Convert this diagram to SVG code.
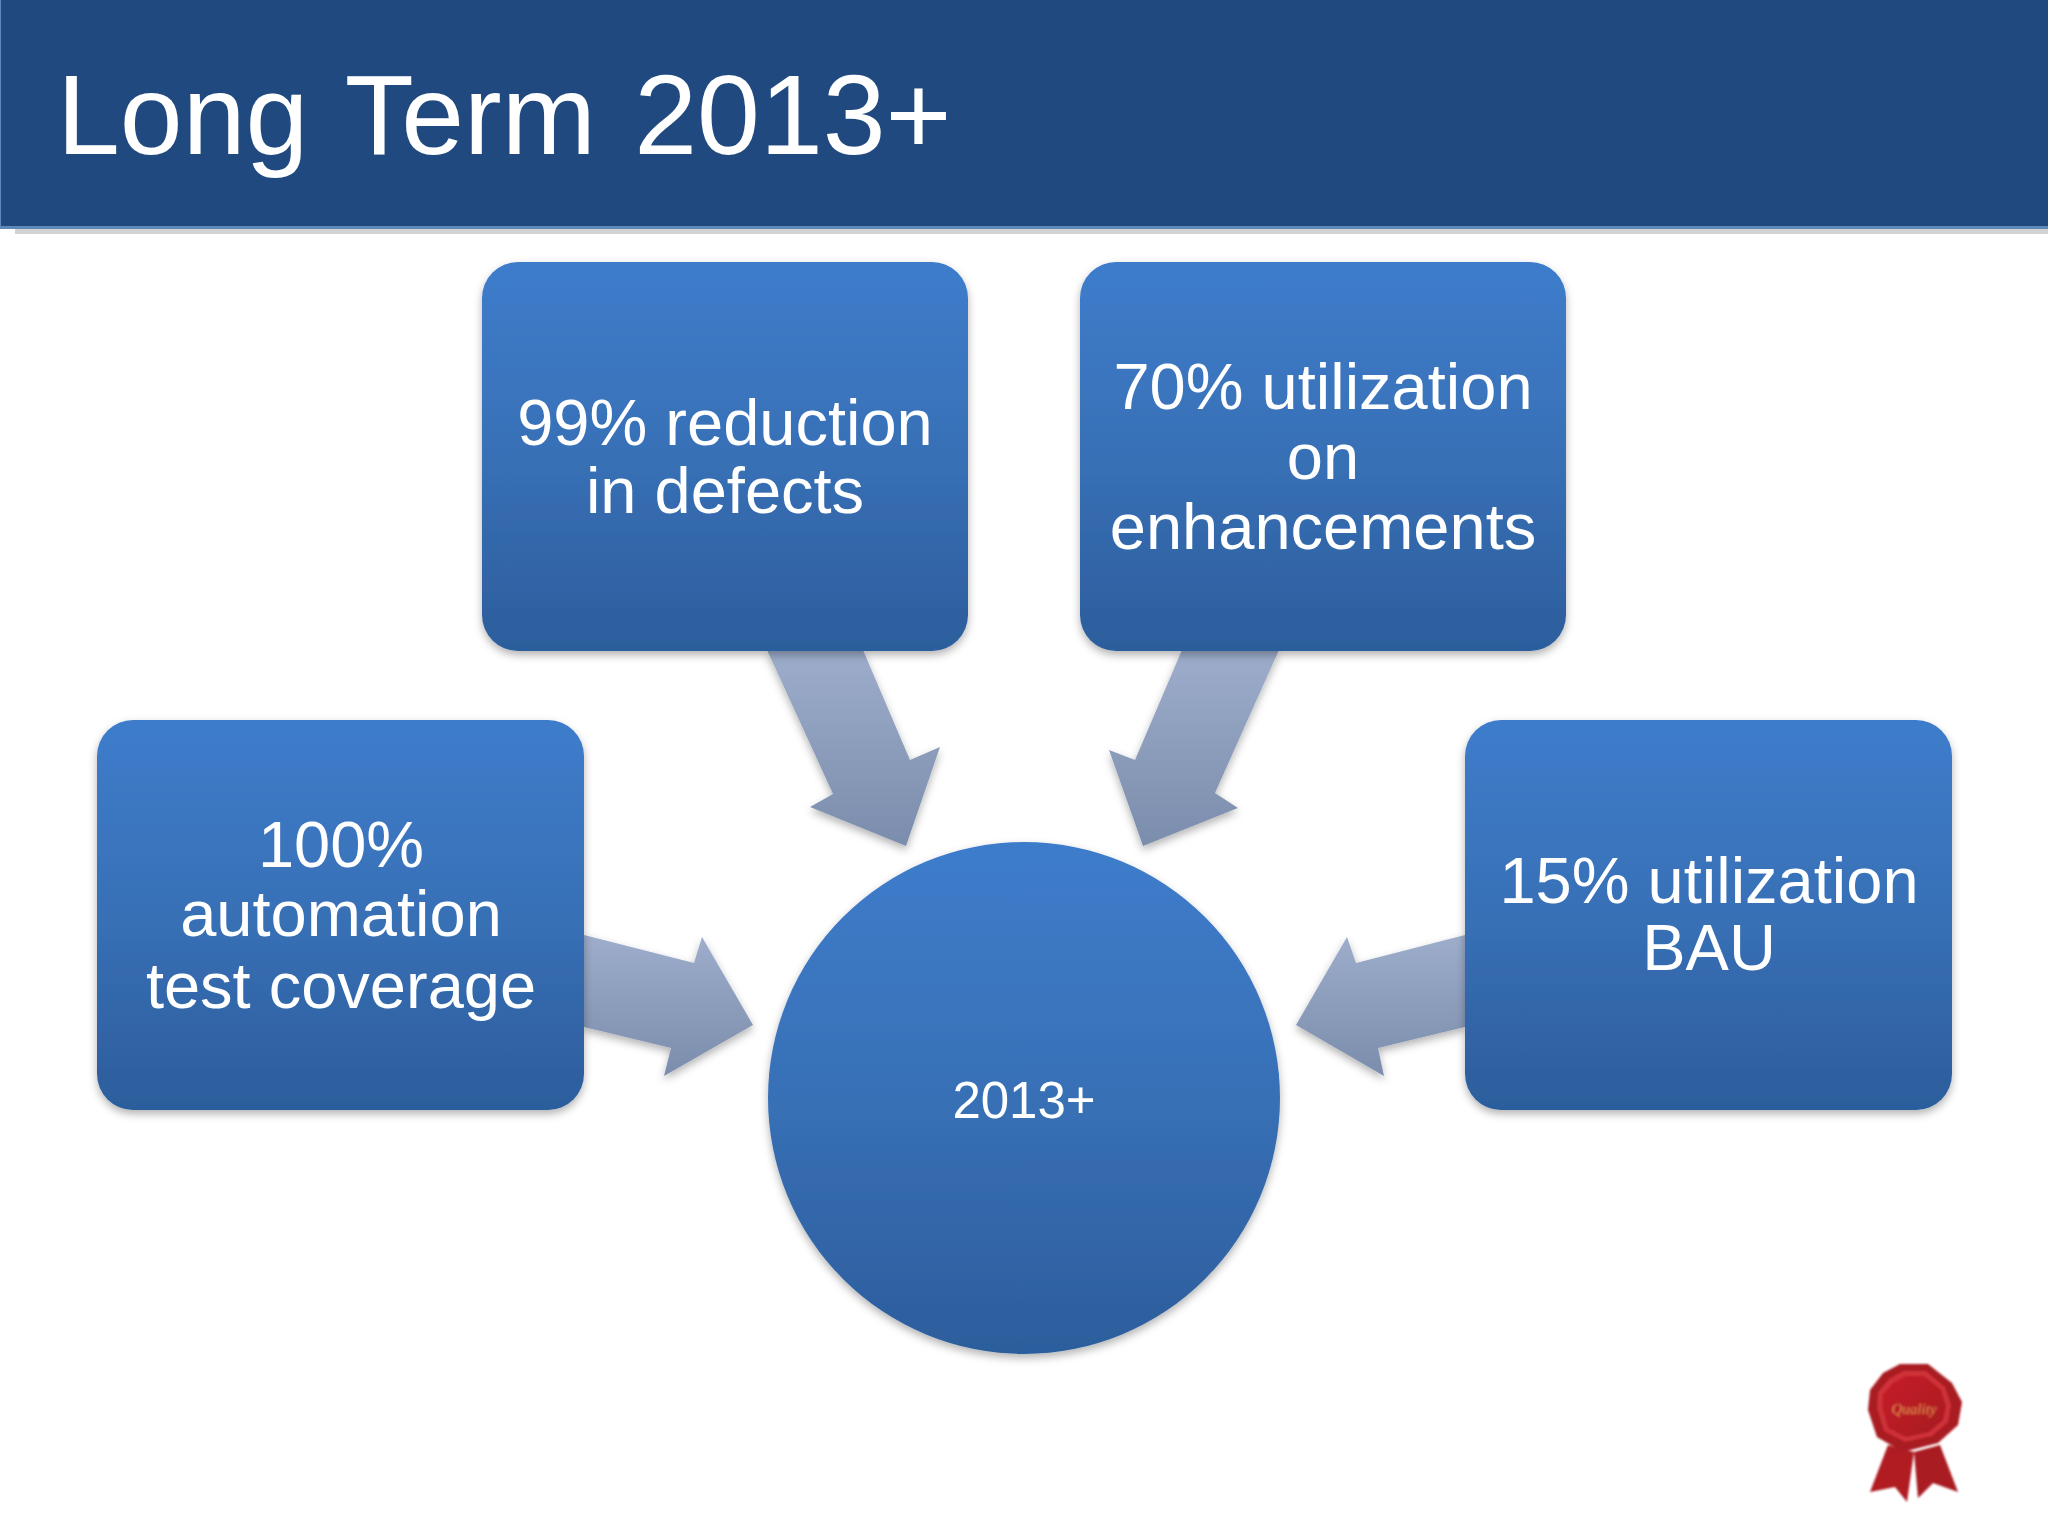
<svg xmlns="http://www.w3.org/2000/svg" width="2048" height="1536" viewBox="0 0 2048 1536">
<defs>
<linearGradient id="nodeFill" x1="0" y1="0" x2="0" y2="1"><stop offset="0" stop-color="#3e7ccb"/><stop offset="0.5" stop-color="#3870b6"/><stop offset="1" stop-color="#2c5d9c"/></linearGradient>
<linearGradient id="arrowFill" x1="0" y1="0" x2="0" y2="1"><stop offset="0" stop-color="#9dadcb"/><stop offset="1" stop-color="#7b8dac"/></linearGradient>
<linearGradient id="sealFill" x1="0" y1="0" x2="1" y2="1"><stop offset="0" stop-color="#c7202a"/><stop offset="1" stop-color="#a5181e"/></linearGradient>
<filter id="shadow" x="-10%" y="-10%" width="120%" height="120%"><feDropShadow dx="0" dy="4" stdDeviation="4" flood-color="#000" flood-opacity="0.3"/></filter>
<filter id="soft" x="-5%" y="-5%" width="110%" height="110%"><feGaussianBlur stdDeviation="0.8"/></filter>
</defs>
<style>
.node{fill:url(#nodeFill);filter:url(#shadow)}
.arrow{fill:url(#arrowFill);filter:url(#shadow)}
.label{font-family:"Liberation Sans",Arial,sans-serif;font-size:65px;fill:#fff;text-anchor:middle}
</style>
<rect width="2048" height="1536" fill="#fff"/>
<g id="header">
<rect x="15" y="228" width="2033" height="6" fill="#d2d2d2"/>
<rect width="2048" height="229" fill="#5f88bb"/>
<rect x="1" y="0" width="2047" height="226" fill="#20497f"/>
<text x="57" y="154" font-family="'Liberation Sans',Arial,sans-serif" font-size="113" word-spacing="7" fill="#fff">Long Term 2013+</text>
</g>
<g id="connectors">
<polygon class="arrow" points="767,650 863,650 910,760 940,747 906,846 810,807 833,794"/>
<polygon class="arrow" points="1182,650 1279,650 1215,793 1238,808 1143,846 1109,750 1135,760"/>
<polygon class="arrow" points="584,935 694,963 702,937 753,1025 664,1076 671,1048 584,1027"/>
<polygon class="arrow" points="1465,935 1356,963 1347,937 1296,1025 1384,1076 1378,1048 1465,1027"/>
</g>
<g id="node-defects"><rect class="node" x="482" y="262" width="486" height="389" rx="36"/><text class="label" x="725" y="445">99% reduction</text><text class="label" x="725" y="513">in defects</text></g>
<g id="node-enhancements"><rect class="node" x="1080" y="262" width="486" height="389" rx="36"/><text class="label" x="1323" y="409">70% utilization</text><text class="label" x="1323" y="479">on</text><text class="label" x="1323" y="549">enhancements</text></g>
<g id="node-automation"><rect class="node" x="97" y="720" width="487" height="390" rx="36"/><text class="label" x="341" y="867">100%</text><text class="label" x="341" y="936">automation</text><text class="label" x="341" y="1008">test coverage</text></g>
<g id="node-bau"><rect class="node" x="1465" y="720" width="487" height="390" rx="36"/><text class="label" x="1709" y="903">15% utilization</text><text class="label" x="1709" y="970">BAU</text></g>
<g id="node-center"><circle class="node" cx="1024" cy="1098" r="256"/><text x="1024" y="1118" font-family="'Liberation Sans',Arial,sans-serif" font-size="51" fill="#fff" text-anchor="middle">2013+</text></g>
<g id="seal" filter="url(#soft)">
<polygon points="1888,1445 1870,1492 1895,1487 1907,1502 1914,1452" fill="#b01e24"/>
<polygon points="1914,1452 1918,1498 1933,1483 1958,1492 1940,1445" fill="#a81b20"/>
<polygon points="1900,1364 1928,1364 1952,1383 1962,1402 1958,1425 1938,1443 1903,1452 1877,1437 1868,1410 1870,1390 1883,1373" fill="#a81c22"/>
<polygon points="1903,1371 1926,1371 1945,1387 1951,1405 1948,1422 1932,1436 1905,1442 1884,1431 1877,1408 1878,1392 1889,1379" fill="#cf3038"/>
<polygon points="1906,1376 1924,1376 1941,1390 1946,1406 1943,1420 1929,1432 1906,1437 1888,1428 1882,1407 1883,1394 1893,1383" fill="url(#sealFill)"/>
<text x="1914" y="1414" font-family="'Liberation Serif',serif" font-style="italic" font-size="15" fill="#e0874f" text-anchor="middle">Quality</text>
</g>
</svg>
